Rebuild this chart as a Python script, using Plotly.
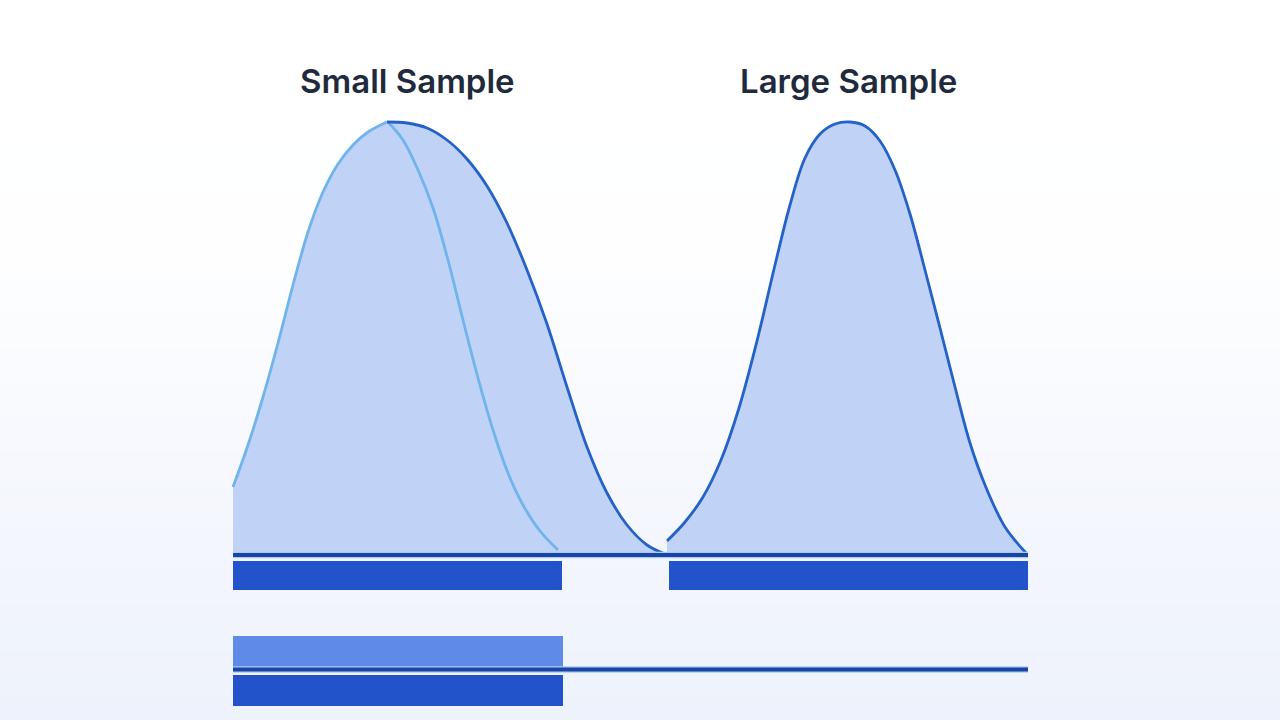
import plotly.graph_objects as go

titles = ["Small Sample", "Large Sample"]
title_x = [407.5, 848]

small_left_x = [233, 248, 263, 278, 293, 308, 323, 338, 353, 368, 387]
small_left_h = [68, 110, 158, 212, 270, 323, 363, 391, 410, 423, 433]

small_right_x = [387, 407, 427, 447, 467, 487, 507, 527, 547, 567, 587, 607, 627, 647, 665]
small_right_h = [433, 432, 427, 415, 396, 369, 332, 285, 231, 168, 108, 62, 30, 10, 1]

small_inner_x = [388, 403, 418, 433, 448, 463, 478, 493, 508, 523, 540, 558]
small_inner_h = [433, 415, 385, 347, 295, 235, 177, 125, 82, 50, 24, 5]

large_x = [667, 685, 703, 721, 739, 757, 775, 790, 805, 820, 835, 850,
           865, 880, 895, 910, 925, 940, 955, 970, 985, 1005, 1027]
large_h = [14, 33, 58, 95, 147, 214, 290, 350, 397, 421, 431, 433,
           429, 414, 385, 341, 285, 227, 168, 112, 70, 28, 1]

axis_start = 233
axis_end = 1028

upper_bar_start = [233, 669]
upper_bar_end = [562, 1028]
lower_bar_start = [233]
lower_bar_end = [563]

bg_h = [555, 305, 105, -45, -165]
bg_level = [0, 0.05, 0.5, 0.8, 1]

CURVE_FILL = "#c0d2f6"
LIGHT_LINE = "#6fb4ec"
DARK_LINE = "#2462c8"
AXIS_LINE = "#1c45a3"
HALO = "#a9cdf7"
BAR_DARK = "#2353cb"
BAR_LIGHT = "#5f8ae8"

fig = go.Figure()

# soft page background
fig.add_trace(go.Heatmap(
    x=[-10, 1290], y=bg_h, z=[[v, v] for v in bg_level],
    colorscale=[[0, "#ffffff"], [1, "#eef2fc"]], zmin=0, zmax=1,
    zsmooth="best", showscale=False, hoverinfo="skip",
))


def add_area(xs, hs):
    fig.add_trace(go.Scatter(
        x=xs, y=hs, mode="lines", fill="tozeroy", fillcolor=CURVE_FILL,
        line=dict(width=0, shape="spline", smoothing=1.0, color=CURVE_FILL),
        hoverinfo="skip",
    ))


def add_curve(xs, hs, color, width=2.8):
    fig.add_trace(go.Scatter(
        x=xs, y=hs, mode="lines",
        line=dict(color=color, width=width, shape="spline", smoothing=1.0),
    ))


add_area(small_left_x + small_right_x[1:], small_left_h + small_right_h[1:])
add_area(large_x, large_h)

add_curve(small_inner_x, small_inner_h, LIGHT_LINE)
add_curve(small_right_x, small_right_h, DARK_LINE)
add_curve(small_left_x, small_left_h, LIGHT_LINE)
add_curve(large_x, large_h, DARK_LINE)


def add_bars(starts, ends, row, thick, color):
    fig.add_trace(go.Bar(
        base=starts, x=[e - s for s, e in zip(starts, ends)],
        y=[row] * len(starts), width=[thick] * len(starts), orientation="h",
        marker=dict(color=color, line=dict(width=0)),
    ))


add_bars(upper_bar_start, upper_bar_end, -20.5, 29, BAR_DARK)
add_bars(lower_bar_start, lower_bar_end, -96.5, 31, BAR_LIGHT)
add_bars(lower_bar_start, lower_bar_end, -135.5, 31, BAR_DARK)

# axis lines, each sits on a paler halo
for row in [0, -114.5]:
    fig.add_trace(go.Scatter(x=[axis_start, axis_end], y=[row, row], mode="lines",
                             line=dict(color=HALO, width=6.5)))
    fig.add_trace(go.Scatter(x=[axis_start, axis_end], y=[row, row], mode="lines",
                             line=dict(color=AXIS_LINE, width=4)))

for label, x in zip(titles, title_x):
    fig.add_annotation(
        x=x, y=474, text=label, showarrow=False,
        font=dict(family="Inter", size=33, color="#1f2a3d", weight=600),
    )

fig.update_layout(
    width=1280,
    height=720,
    margin=dict(l=0, r=0, t=0, b=0),
    showlegend=False,
    barmode="overlay",
    plot_bgcolor="white",
    paper_bgcolor="white",
    xaxis=dict(range=[0, 1280], visible=False),
    yaxis=dict(range=[-165, 555], visible=False),
)

fig.write_html("out.html", config={"displayModeBar": False},
               post_script="document.body.style.margin='0';document.body.style.overflow='hidden';")
